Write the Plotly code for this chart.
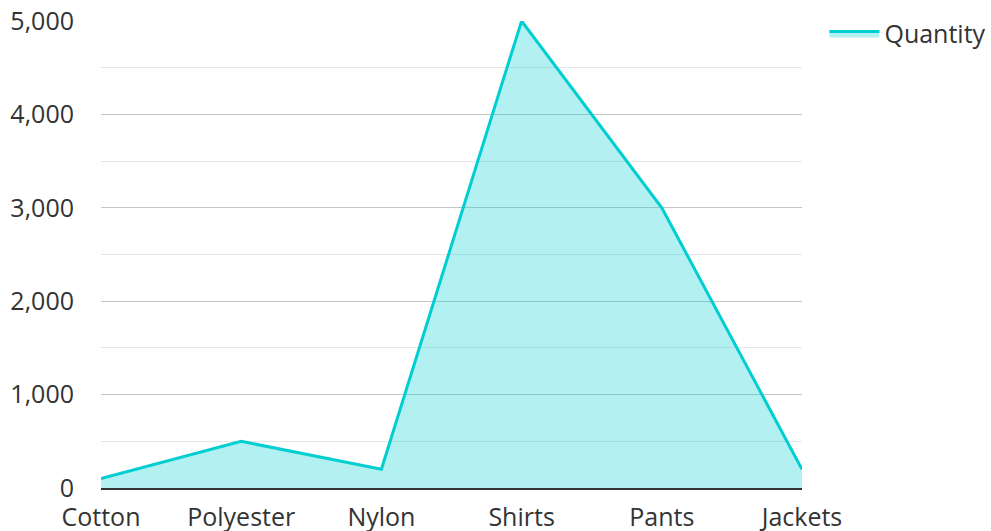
import plotly.graph_objects as go

categories = ["Cotton", "Polyester", "Nylon", "Shirts", "Pants", "Jackets"]
quantity = [100, 500, 200, 5000, 3000, 200]
series_name = "Quantity"

fig = go.Figure()
fig.add_trace(go.Scatter(
    x=categories, y=quantity, name=series_name, mode="lines",
    line=dict(color="#00CED1", width=3),
    fill="tozeroy", fillcolor="rgba(0,206,209,0.3)",
    showlegend=True,
))

fig.update_layout(
    width=991, height=531,
    margin=dict(l=101, r=189, t=21, b=43, autoexpand=False),
    paper_bgcolor="white", plot_bgcolor="white",
    font=dict(family="Open Sans", size=25, color="#333333"),
    legend=dict(x=1.032, y=1.022, xanchor="left", yanchor="top",
                font=dict(size=25, color="#333333"), bgcolor="rgba(0,0,0,0)",
                itemwidth=50),
    xaxis=dict(type="category", range=[0, 5], showgrid=False, automargin=False,
               showline=True, linecolor="#333333", linewidth=2,
               ticks="outside", ticklen=6, tickcolor="rgba(0,0,0,0)",
               tickfont=dict(size=25, color="#333333")),
    yaxis=dict(range=[0, 5000], dtick=1000, tickformat=",d", automargin=False,
               showgrid=True, gridcolor="#c4c4c4", gridwidth=1,
               zeroline=False, showline=False,
               ticklabelstandoff=26,
               tickfont=dict(size=25, color="#333333"),
               minor=dict(dtick=500, showgrid=True, gridcolor="#e6e6e6", gridwidth=1)),
)

fig.write_html("out.html", config={"displayModeBar": False},
               post_script="document.body.style.margin='0';")
